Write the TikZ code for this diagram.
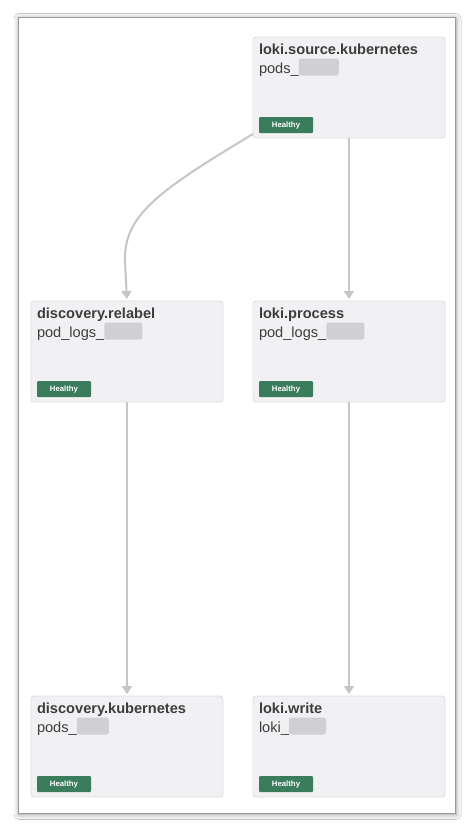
\documentclass[tikz,border=0pt]{standalone}
\usepackage{fontspec}
\setmainfont{Liberation Sans}
\usetikzlibrary{arrows.meta,shadows.blur,calc}
\definecolor{nodefill}{HTML}{F1F1F3}
\definecolor{nodeedge}{HTML}{DEDEE1}
\definecolor{healthy}{HTML}{3A7D5C}
\definecolor{txt}{HTML}{3D3D3D}
\definecolor{wire}{HTML}{C6C6C6}
\definecolor{blurgray}{HTML}{D0D0D2}
\definecolor{paneledge}{HTML}{9A9A9A}
\tikzset{
  panel/.style={draw=paneledge, line width=0.8pt, fill=white, inner sep=0pt, outer sep=0pt,
    blur shadow={shadow xshift=1pt, shadow yshift=-1.5pt, shadow blur radius=5pt, shadow opacity=45}},
  compbox/.style={draw=nodeedge, line width=0.8pt, fill=nodefill, rounded corners=3pt,
    minimum width=192pt, minimum height=101pt, inner sep=0pt, outer sep=0pt},
  ttl/.style={font=\bfseries\fontsize{14.6}{16}\selectfont, text=txt, inner sep=0pt, outer sep=0pt},
  subtxt/.style={font=\fontsize{14.6}{16}\selectfont, text=txt, inner sep=0pt, outer sep=0pt},
  blurbox/.style={fill=blurgray, rounded corners=2.5pt, minimum height=17pt, inner sep=0pt, outer sep=0pt},
  badge/.style={fill=healthy, text=white, font=\bfseries\fontsize{7.8}{8}\selectfont,
    minimum width=54pt, minimum height=16pt, inner sep=0pt, outer sep=0pt, rounded corners=1pt},
  wire/.style={draw=wire, line width=2pt, shorten >=2pt, -{Triangle[width=10pt,length=8pt]}}
}
% name, x, y, title, sub, blur width
\newcommand\comp[6]{%
  \node[compbox, anchor=north west] (#1) at (#2,#3) {};
  \node[ttl, anchor=base west] (#1-t) at ($(#1.north west)+(6,17)$) {#4};
  \node[subtxt, anchor=base west] (#1-s) at ($(#1.north west)+(6,36)$) {#5};
  \node[blurbox, anchor=north west, minimum width=#6] (#1-b) at ($(#1-s.base east)+(0,-14.5)$) {};
  \node[badge, anchor=south west] (#1-h) at ($(#1.south west)+(6,-5)$) {Healthy};
}
\begin{document}
\begin{tikzpicture}[x=1pt,y=-1pt]
\useasboundingbox (0,0) rectangle (474,833);
\fill[white] (0,0) rectangle (474,833);
\node[panel, minimum width=437pt, minimum height=796pt, anchor=north west] (panel) at (18,17) {};
\comp{src}{253}{37}{loki.source.kubernetes}{pods\_}{40pt}
\comp{rel}{31}{301}{discovery.relabel}{pod\_logs\_}{38pt}
\comp{proc}{253}{301}{loki.process}{pod\_logs\_}{38pt}
\comp{kube}{31}{696}{discovery.kubernetes}{pods\_}{32pt}
\comp{write}{253}{696}{loki.write}{loki\_}{37pt}
\coordinate (c0) at ($(src.south west)+(0,-4)$);
\draw[wire] (c0) .. controls (160,190) and (123,215) .. (125,262) -- (rel.north);
\draw[wire] (src.south) -- (proc.north);
\draw[wire] (rel.south) -- (kube.north);
\draw[wire] (proc.south) -- (write.north);
\end{tikzpicture}
\end{document}
